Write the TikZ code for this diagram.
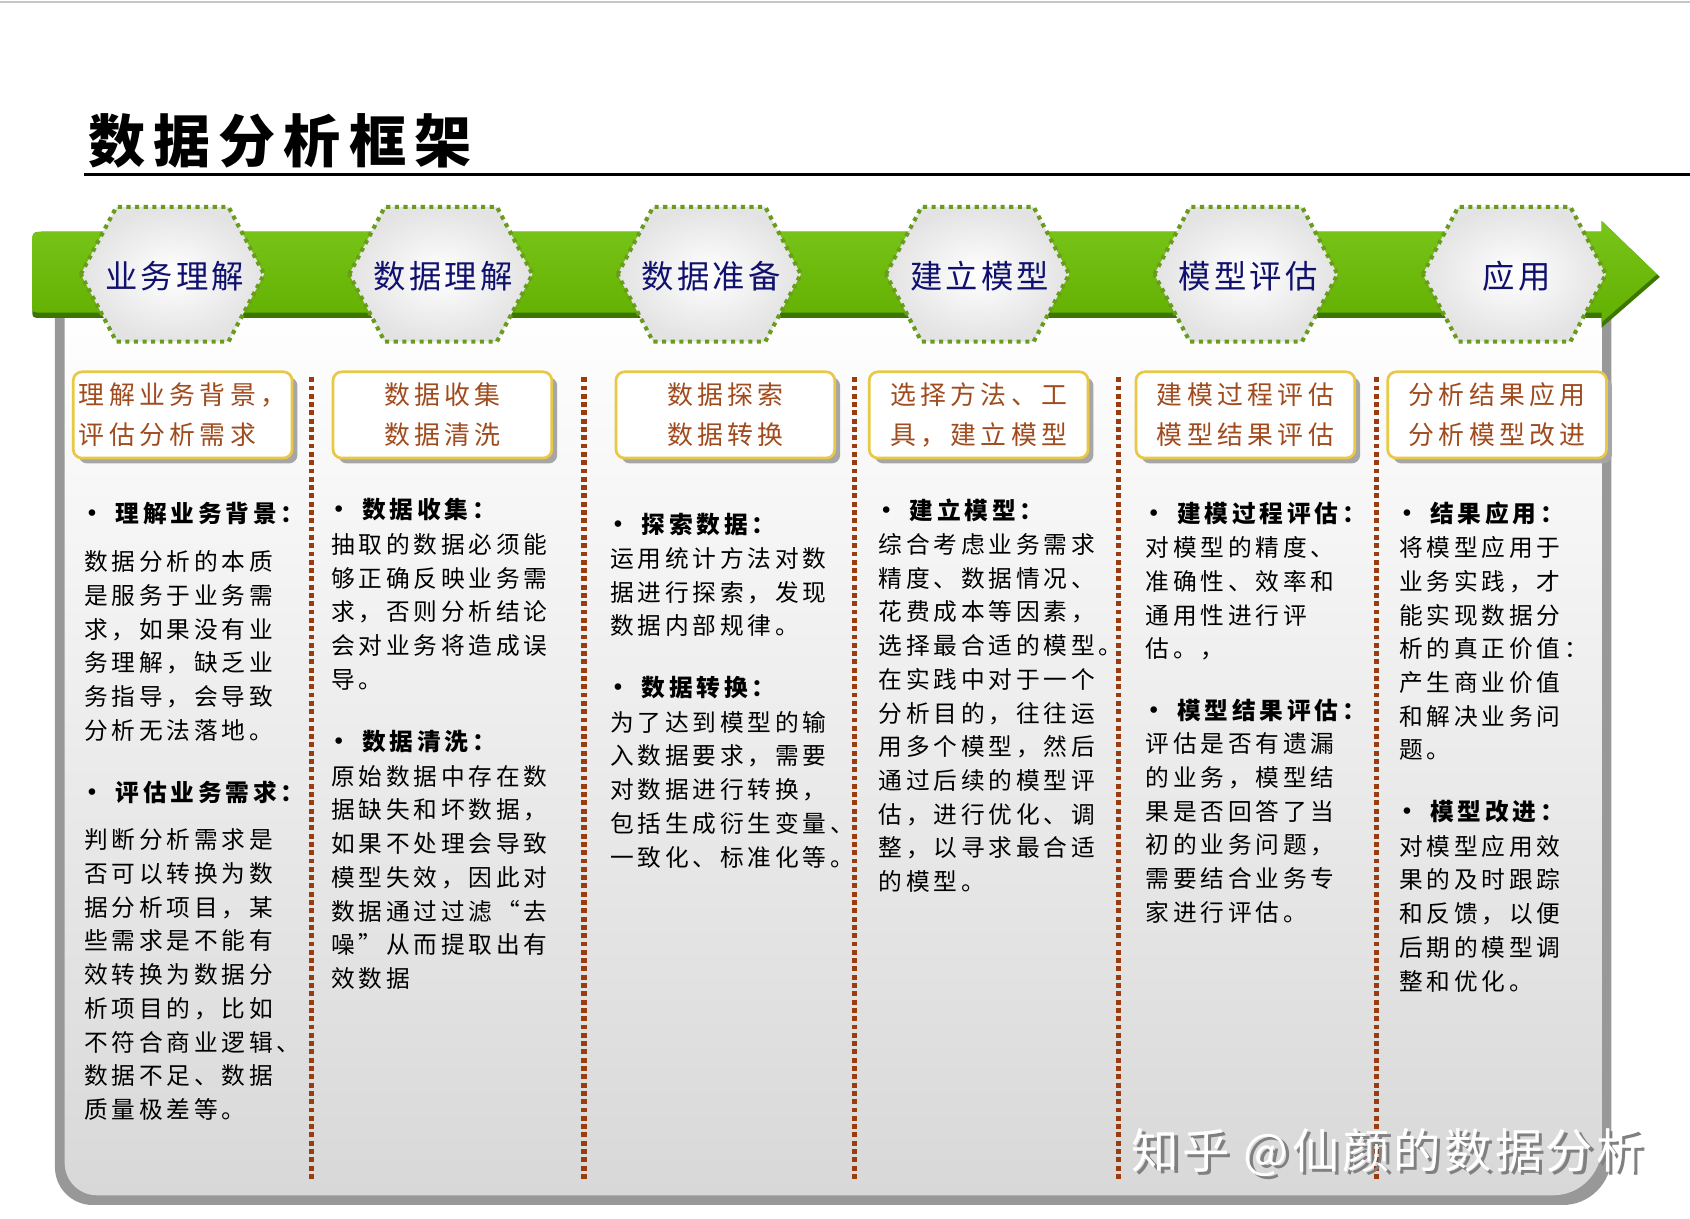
\documentclass[tikz,border=0pt]{standalone}
\usepackage{fontspec}
\setmainfont{Noto Sans CJK SC}
\newfontfamily\titlefont{Noto Sans CJK SC}[LetterSpace=14]
\newfontfamily\hexfont{Noto Sans CJK SC}[LetterSpace=10]
\newfontfamily\boxfont{Noto Sans CJK SC}[LetterSpace=17]
\newfontfamily\bodyfont{Noto Sans CJK SC}[LetterSpace=16]
\newfontfamily\markfont{Noto Sans CJK SC}[LetterSpace=7]
\newfontfamily\dotfont{DejaVu Sans}
\usetikzlibrary{shadows}
\definecolor{bandgreen}{RGB}{98,176,0}
\definecolor{bandlight}{RGB}{122,198,28}
\definecolor{banddark}{RGB}{60,118,0}
\definecolor{hexgreen}{RGB}{105,155,30}
\definecolor{hexnavy}{RGB}{16,16,110}
\definecolor{boxgold}{RGB}{232,200,70}
\definecolor{boxbrown}{RGB}{160,75,30}
\definecolor{sepbrown}{RGB}{155,60,15}
\definecolor{framegray}{RGB}{152,152,152}
\definecolor{panelbottom}{RGB}{216,216,216}
\tikzset{
  bodytext/.style={anchor=base west, inner sep=0pt, text=black,
    font=\bodyfont\fontsize{22pt}{26pt}\selectfont},
  headtext/.style={anchor=base west, inner sep=0pt, text=black,
    font=\bodyfont\bfseries\fontsize{22pt}{26pt}\selectfont},
  bulletmark/.style={anchor=base west, inner sep=0pt, text=black,
    font=\dotfont\fontsize{21pt}{24pt}\selectfont},
  hexlabel/.style={inner sep=0pt, text=hexnavy,
    font=\hexfont\fontsize{30pt}{34pt}\selectfont},
  hexborder/.style={draw=hexgreen, line width=3.8pt, dash pattern=on 3.8pt off 4.2pt},
  sepline/.style={draw=sepbrown, line width=5pt, dash pattern=on 4.5pt off 3.2pt},
  stagebox/.style={draw=boxgold, line width=2.5pt, rounded corners=8pt, fill=white,
    minimum width=203pt, minimum height=80pt, inner sep=0pt, text=boxbrown,
    font=\boxfont\fontsize{24pt}{37pt}\selectfont,
    drop shadow={shadow xshift=5pt, shadow yshift=-5pt, fill=black!35, opacity=1}},
}
\newcommand\collines[4]{%
  \foreach \t [count=\i] in {#4} {
    \node[bodytext] (#1-\i) at ({#2},{#3+31.3*(\i-1)}) {\t};
  }}
\newcommand\colhead[4]{%
  \node[bulletmark] (#1-dot) at ({#2+1},{#3-1}) {•};
  \node[headtext] (#1) at ({#2+29},{#3}) {#4};}
\def\bandshape{(1486,205) -- (1540,257) -- (1486,304) -- (1486,295) -- (38,295) .. controls (30,295) .. (30,287) -- (30,227) .. controls (30,215) .. (42,215) -- (1486,215) -- cycle}
\begin{document}
\begin{tikzpicture}[x=1pt,y=-1pt]
\useasboundingbox (0,0) rectangle (1568,1131);
\fill[white] (0,0) rectangle (1568,1131);
% top line, title, rule
\draw[black!22, line width=2pt] (0,1.5) -- (1568,1.5);
\node[anchor=base west, inner sep=0pt, font=\titlefont\bfseries\fontsize{53pt}{60pt}\selectfont] (title) at (82,151) {数据分析框架};
\draw[black, line width=2.5pt] (78,162) -- (1568,162);
% panel frame and inner gradient
\fill[framegray] (51,280) -- (51,1083) .. controls (51,1102.3) and (66.7,1118) .. (86,1118) -- (1450,1118) .. controls (1474.8,1118) and (1495,1097.8) .. (1495,1073) -- (1495,280) -- cycle;
\shade[top color=white, bottom color=panelbottom] (60,280) -- (60,1079) .. controls (60,1095.6) and (73.4,1109) .. (90,1109) -- (1441,1109) .. controls (1465.8,1109) and (1486,1088.8) .. (1486,1064) -- (1486,280) -- cycle;
% green band arrow
\fill[banddark] \bandshape;
\begin{scope}
  \clip \bandshape;
  \shade[top color=bandlight, bottom color=bandgreen, yshift=5pt] \bandshape;
\end{scope}
% hexagons
\foreach \cx/\lab [count=\i] in {160/业务理解, 409/数据理解, 658/数据准备, 907/建立模型, 1156/模型评估, 1405/应用} {
  \shade[inner color=white, outer color=black!11] ({\cx-85},254.5) -- ({\cx-52},192) -- ({\cx+52},192) -- ({\cx+85},254.5) -- ({\cx+52},317) -- ({\cx-52},317) -- cycle;
  \draw[hexborder] ({\cx-85},254.5) -- ({\cx-52},192) -- ({\cx+52},192) -- ({\cx+85},254.5) -- ({\cx+52},317) -- ({\cx-52},317) -- cycle;
  \node[hexlabel] (hex\i) at ({\cx+2},256) {\lab};
}
% stage boxes
\node[stagebox, align=left] (box1) at (169.5,385) {理解业务背景，\\评估分析需求};
\node[stagebox, align=center] (box2) at (410.5,385) {数据收集\\数据清洗};
\node[stagebox, align=center] (box3) at (673,385) {数据探索\\数据转换};
\node[stagebox, align=left] (box4) at (908,385) {选择方法、工\\具，建立模型};
\node[stagebox, align=center] (box5) at (1155.5,385) {建模过程评估\\模型结果评估};
\node[stagebox, align=center] (box6) at (1389,385) {分析结果应用\\分析模型改进};
% separators
\foreach \sx in {289,542,793,1038,1277} {
  \draw[sepline] (\sx,350) -- (\sx,1095);
}
% column 1
\colhead{c1h1}{78}{485}{理解业务背景：}
\collines{c1a}{78}{529.4}{数据分析的本质,是服务于业务需,求，如果没有业,务理解，缺乏业,务指导，会导致,分析无法落地。}
\colhead{c1h2}{78}{744}{评估业务需求：}
\collines{c1b}{78}{787.4}{判断分析需求是,否可以转换为数,据分析项目，某,些需求是不能有,效转换为数据分,析项目的，比如,不符合商业逻辑、,数据不足、数据,质量极差等。}
% column 2
\colhead{c2h1}{307}{481.4}{数据收集：}
\collines{c2a}{307}{513.4}{抽取的数据必须能,够正确反映业务需,求，否则分析结论,会对业务将造成误,导。}
\colhead{c2h2}{307}{696.4}{数据清洗：}
\collines{c2b}{307}{728.4}{原始数据中存在数,据缺失和坏数据，,如果不处理会导致,模型失效，因此对,数据通过过滤“去,噪”从而提取出有,效数据}
% column 3
\colhead{c3h1}{566}{495.4}{探索数据：}
\collines{c3a}{566}{526.4}{运用统计方法对数,据进行探索，发现,数据内部规律。}
\colhead{c3h2}{566}{646.4}{数据转换：}
\collines{c3b}{566}{678.4}{为了达到模型的输,入数据要求，需要,对数据进行转换，,包括生成衍生变量、,一致化、标准化等。}
% column 4
\colhead{c4h1}{815}{482.4}{建立模型：}
\collines{c4a}{815}{513.4}{综合考虑业务需求,精度、数据情况、,花费成本等因素，,选择最合适的模型。,在实践中对于一个,分析目的，往往运,用多个模型，然后,通过后续的模型评,估，进行优化、调,整，以寻求最合适,的模型。}
% column 5
\colhead{c5h1}{1063}{484.4}{建模过程评估：}
\collines{c5a}{1063}{516.4}{对模型的精度、,准确性、效率和,通用性进行评,估。，}
\colhead{c5h2}{1063}{667.4}{模型结果评估：}
\collines{c5b}{1063}{698.4}{评估是否有遗漏,的业务，模型结,果是否回答了当,初的业务问题，,需要结合业务专,家进行评估。}
% column 6
\colhead{c6h1}{1298}{484.4}{结果应用：}
\collines{c6a}{1298}{516.4}{将模型应用于,业务实践，才,能实现数据分,析的真正价值：,产生商业价值,和解决业务问,题。}
\colhead{c6h2}{1298}{761.4}{模型改进：}
\collines{c6b}{1298}{793.4}{对模型应用效,果的及时跟踪,和反馈，以便,后期的模型调,整和优化。}
% watermark
\node[anchor=base west, inner sep=0pt, text=black!50, font=\markfont\fontsize{44pt}{50pt}\selectfont] (markshadow) at (1053,1087) {知乎 @仙颜的数据分析};
\node[anchor=base west, inner sep=0pt, text=white, font=\markfont\fontsize{44pt}{50pt}\selectfont] (mark) at (1050,1084) {知乎 @仙颜的数据分析};
\end{tikzpicture}
\end{document}
